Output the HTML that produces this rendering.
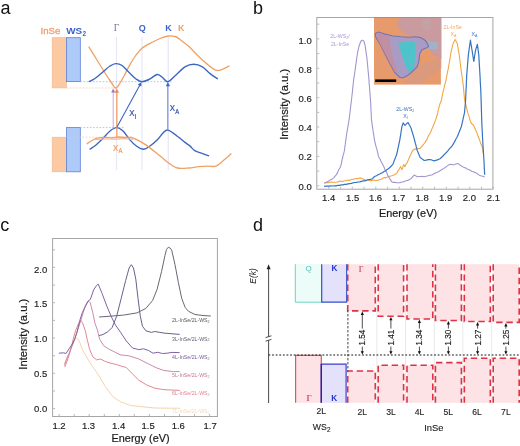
<!DOCTYPE html>
<html><head><meta charset="utf-8"><title>Figure</title>
<style>
html,body{margin:0;padding:0;background:#fff;width:520px;height:446px;overflow:hidden}
svg{display:block}
text{font-family:"Liberation Sans",Arial,sans-serif}
</style></head><body>
<svg width="520" height="446" viewBox="0 0 520 446">
<rect width="520" height="446" fill="#fff"/>
<text x="0.4" y="14.1" font-size="18" fill="#111">a</text>
<text x="252.9" y="13.9" font-size="18" fill="#111">b</text>
<text x="0.2" y="230.8" font-size="18" fill="#111">c</text>
<text x="252.9" y="230.7" font-size="18" fill="#111">d</text>
<line x1="116.6" y1="37" x2="116.6" y2="170" stroke="#dcdcf0" stroke-width="0.8"/>
<line x1="142.0" y1="37" x2="142.0" y2="170" stroke="#dcdcf0" stroke-width="0.8"/>
<line x1="168.2" y1="37" x2="168.2" y2="170" stroke="#dcdcf0" stroke-width="0.8"/>
<rect x="52.2" y="37.7" width="14.3" height="50.2" fill="#fbc9a2" stroke="#f4b48c" stroke-width="0.6"/>
<rect x="66.5" y="37.7" width="13.8" height="43.9" fill="#adcaf8" stroke="#5c80d4" stroke-width="0.8"/>
<rect x="52.2" y="137.2" width="14.3" height="34.6" fill="#fbc9a2" stroke="#f4b48c" stroke-width="0.6"/>
<rect x="66.5" y="127.6" width="13.8" height="44.2" fill="#adcaf8" stroke="#5c80d4" stroke-width="0.8"/>
<line x1="80.3" y1="81.7" x2="172" y2="81.7" stroke="#9ab4ec" stroke-width="0.8" stroke-dasharray="1.6,1.6"/>
<line x1="66.5" y1="88" x2="118" y2="88" stroke="#f6c4a4" stroke-width="0.8" stroke-dasharray="1.6,1.6"/>
<line x1="80.3" y1="127.6" x2="124" y2="127.6" stroke="#9ab4ec" stroke-width="0.8" stroke-dasharray="1.6,1.6"/>
<line x1="66.5" y1="137.2" x2="134" y2="137.2" stroke="#f6c4a4" stroke-width="0.8" stroke-dasharray="1.6,1.6"/>
<path d="M88.7,46.6 C90.1,48.8 94.3,55.6 97.0,60.0 C99.7,64.4 102.7,69.3 105.0,73.0 C107.3,76.7 109.2,79.5 111.0,82.0 C112.8,84.5 114.1,87.8 115.6,88.0 C117.1,88.2 118.6,85.0 120.0,83.0 C121.4,81.0 122.6,78.5 124.0,76.0 C125.4,73.5 126.5,70.8 128.2,67.8 C129.9,64.8 131.8,61.2 134.0,58.0 C136.2,54.8 138.5,51.2 141.7,48.5 C144.9,45.8 150.1,43.5 153.2,41.8 C156.2,40.1 157.4,39.5 160.0,38.5 C162.6,37.5 166.1,36.3 168.6,36.0 C171.1,35.7 173.2,36.0 175.0,36.5 C176.8,37.0 177.0,37.2 179.3,38.9 C181.6,40.6 185.7,43.7 188.9,46.6 C192.1,49.5 195.3,53.2 198.5,56.2 C201.7,59.2 205.3,62.6 208.2,64.9 C211.1,67.2 213.7,69.3 215.9,70.1 C218.2,70.9 219.4,70.4 221.7,69.7 C223.9,69.0 228.1,66.5 229.4,65.9" fill="none" stroke="#f2a062" stroke-width="1.3"/>
<path d="M88.7,81.7 C89.8,81.2 92.6,80.2 95.0,78.5 C97.4,76.8 100.6,73.8 103.1,71.7 C105.6,69.6 107.9,67.3 110.0,66.0 C112.1,64.7 113.6,63.7 115.6,63.6 C117.6,63.5 119.6,63.8 122.0,65.5 C124.4,67.2 127.8,71.3 130.1,73.6 C132.4,75.8 134.1,77.7 136.0,79.0 C137.9,80.3 139.5,81.6 141.7,81.7 C143.9,81.8 146.4,80.7 149.0,79.5 C151.6,78.3 154.9,74.9 157.1,74.5 C159.3,74.1 160.2,75.8 162.0,77.0 C163.8,78.2 165.5,82.0 167.7,81.7 C169.9,81.5 172.5,78.0 175.4,75.5 C178.3,73.0 181.9,68.7 185.0,66.8 C188.1,64.9 190.8,64.3 193.7,64.3 C196.6,64.3 199.7,65.2 202.4,66.8 C205.1,68.3 207.5,71.6 210.1,73.6 C212.7,75.6 216.5,78.1 217.8,79.0" fill="none" stroke="#3d66c2" stroke-width="1.4"/>
<path d="M89.6,149.3 C90.7,148.6 93.8,146.8 96.0,145.0 C98.2,143.2 100.8,140.5 103.1,138.2 C105.4,135.9 107.8,132.8 110.0,131.0 C112.2,129.2 114.4,127.6 116.6,127.6 C118.8,127.6 120.8,128.9 123.0,131.0 C125.2,133.1 127.8,137.5 130.1,140.1 C132.4,142.7 134.8,145.0 137.0,146.5 C139.2,148.0 141.4,149.4 143.6,149.3 C145.8,149.2 147.8,147.5 150.0,146.0 C152.2,144.5 154.9,142.3 157.1,140.1 C159.3,137.9 161.2,134.7 163.0,133.0 C164.8,131.3 165.7,129.6 168.1,130.1 C170.5,130.6 174.5,134.1 177.3,136.2 C180.1,138.2 182.9,140.8 185.0,142.4 C187.1,144.0 188.3,144.5 189.9,145.9 C191.5,147.3 192.8,149.5 194.7,150.7 C196.6,151.9 199.0,152.3 201.4,153.2 C203.8,154.1 207.8,155.4 209.1,155.9" fill="none" stroke="#3d66c2" stroke-width="1.4"/>
<path d="M86.7,144.0 C87.6,143.4 90.2,141.5 92.0,140.5 C93.8,139.5 95.1,138.7 97.3,138.2 C99.5,137.7 102.5,137.4 105.0,137.3 C107.5,137.2 109.8,137.9 112.0,137.8 C114.2,137.8 115.8,137.1 118.0,137.0 C120.2,136.9 122.8,137.4 125.0,137.5 C127.2,137.6 128.9,137.0 131.0,137.4 C133.1,137.8 135.1,138.7 137.8,140.1 C140.5,141.5 144.2,143.7 147.4,145.9 C150.6,148.2 154.7,151.7 157.1,153.6 C159.5,155.5 160.2,156.1 162.0,157.5 C163.8,158.9 165.1,160.6 167.7,162.3 C170.2,164.1 173.8,167.1 177.3,168.0 C180.8,168.9 185.4,168.2 188.9,168.0 C192.4,167.8 195.3,167.0 198.5,166.7 C201.7,166.4 205.3,166.2 208.2,166.1 C211.1,166.0 213.3,167.1 215.9,166.1 C218.5,165.1 221.0,162.4 223.6,160.3 C226.2,158.2 230.0,154.7 231.3,153.6" fill="none" stroke="#f2a062" stroke-width="1.3"/>
<path d="M95.0,139.5 C96.7,139.4 101.7,138.9 105.0,138.8 C108.3,138.8 111.7,139.2 115.0,139.2 C118.3,139.2 122.0,138.6 125.0,138.6 C128.0,138.6 131.7,139.3 133.0,139.4" fill="none" stroke="#f5b890" stroke-width="1.2"/>
<line x1="113.2" y1="128" x2="113.2" y2="91" stroke="#c99ad8" stroke-width="0.9"/>
<path d="M113.2,88.4 L111.2,92.6 L115.2,92.6 Z" fill="#a070d0"/>
<line x1="116.8" y1="137.5" x2="116.8" y2="91" stroke="#f4a877" stroke-width="1.5"/>
<path d="M116.8,88.4 L114.6,92.8 L119,92.8 Z" fill="#f08850"/>
<line x1="116.7" y1="127.5" x2="139.9" y2="85" stroke="#3d66c2" stroke-width="1.1"/>
<path d="M141.4,82.2 L137.7,84.6 L141.4,86.6 Z" fill="#3d66c2"/>
<line x1="167.8" y1="130.3" x2="167.8" y2="85" stroke="#6f8ad6" stroke-width="1.1"/>
<path d="M167.9,82 L165.8,86.2 L170,86.2 Z" fill="#3d66c2"/>
<text x="40.6" y="33.9" font-size="9.6" fill="#f09c6a" stroke="#f09c6a" stroke-width="0.3">InSe</text>
<text x="66.3" y="33.9" font-size="9.9" fill="#3a62c8" font-weight="bold">WS<tspan font-size="6.4" dy="2.2" dx="0.4">2</tspan></text>
<text x="116.4" y="30.8" font-size="9.4" fill="#72729a" text-anchor="middle" style="font-family:Liberation Serif,serif">Γ</text>
<text x="142.2" y="30.8" font-size="9" fill="#3a64cc" text-anchor="middle" font-weight="bold">Q</text>
<text x="168.5" y="30.8" font-size="9" fill="#3a64cc" text-anchor="middle" font-weight="bold">K</text>
<text x="181.3" y="30.8" font-size="9" fill="#f3a060" text-anchor="middle" font-weight="bold">K</text>
<text transform="translate(129.3,116) scale(0.85,1)" font-size="9.3" fill="#3a56b2" stroke="#3a56b2" stroke-width="0.25">X<tspan font-size="6.9" dy="2.9" dx="0.3">I</tspan></text>
<text transform="translate(169.8,110.7) scale(0.85,1)" font-size="9.3" fill="#3a56b2" stroke="#3a56b2" stroke-width="0.25">X<tspan font-size="6.9" dy="3.1" dx="0.3">A</tspan></text>
<text transform="translate(113.1,150.5) scale(0.85,1)" font-size="9.3" fill="#f09c5c" stroke="#f09c5c" stroke-width="0.25">X<tspan font-size="6.9" dy="2.1" dx="0.3">A</tspan></text>
<rect x="316.8" y="17.5" width="176.1" height="171.7" fill="none" stroke="#a6a6a6" stroke-width="1"/>
<line x1="317.3" y1="185.8" x2="319.3" y2="185.8" stroke="#a6a6a6" stroke-width="0.8"/>
<line x1="317.3" y1="171.1" x2="319.3" y2="171.1" stroke="#a6a6a6" stroke-width="0.8"/>
<line x1="317.3" y1="156.4" x2="319.3" y2="156.4" stroke="#a6a6a6" stroke-width="0.8"/>
<line x1="317.3" y1="141.7" x2="319.3" y2="141.7" stroke="#a6a6a6" stroke-width="0.8"/>
<line x1="317.3" y1="127.0" x2="319.3" y2="127.0" stroke="#a6a6a6" stroke-width="0.8"/>
<line x1="317.3" y1="112.4" x2="319.3" y2="112.4" stroke="#a6a6a6" stroke-width="0.8"/>
<line x1="317.3" y1="97.7" x2="319.3" y2="97.7" stroke="#a6a6a6" stroke-width="0.8"/>
<line x1="317.3" y1="83.0" x2="319.3" y2="83.0" stroke="#a6a6a6" stroke-width="0.8"/>
<line x1="317.3" y1="68.3" x2="319.3" y2="68.3" stroke="#a6a6a6" stroke-width="0.8"/>
<line x1="317.3" y1="53.6" x2="319.3" y2="53.6" stroke="#a6a6a6" stroke-width="0.8"/>
<line x1="317.3" y1="38.9" x2="319.3" y2="38.9" stroke="#a6a6a6" stroke-width="0.8"/>
<line x1="317.3" y1="24.2" x2="319.3" y2="24.2" stroke="#a6a6a6" stroke-width="0.8"/>
<line x1="328.8" y1="188.7" x2="328.8" y2="186.7" stroke="#a6a6a6" stroke-width="0.8"/>
<line x1="340.6" y1="188.7" x2="340.6" y2="186.7" stroke="#a6a6a6" stroke-width="0.8"/>
<line x1="352.3" y1="188.7" x2="352.3" y2="186.7" stroke="#a6a6a6" stroke-width="0.8"/>
<line x1="364.0" y1="188.7" x2="364.0" y2="186.7" stroke="#a6a6a6" stroke-width="0.8"/>
<line x1="375.8" y1="188.7" x2="375.8" y2="186.7" stroke="#a6a6a6" stroke-width="0.8"/>
<line x1="387.6" y1="188.7" x2="387.6" y2="186.7" stroke="#a6a6a6" stroke-width="0.8"/>
<line x1="399.3" y1="188.7" x2="399.3" y2="186.7" stroke="#a6a6a6" stroke-width="0.8"/>
<line x1="411.1" y1="188.7" x2="411.1" y2="186.7" stroke="#a6a6a6" stroke-width="0.8"/>
<line x1="422.8" y1="188.7" x2="422.8" y2="186.7" stroke="#a6a6a6" stroke-width="0.8"/>
<line x1="434.5" y1="188.7" x2="434.5" y2="186.7" stroke="#a6a6a6" stroke-width="0.8"/>
<line x1="446.3" y1="188.7" x2="446.3" y2="186.7" stroke="#a6a6a6" stroke-width="0.8"/>
<line x1="458.1" y1="188.7" x2="458.1" y2="186.7" stroke="#a6a6a6" stroke-width="0.8"/>
<line x1="469.8" y1="188.7" x2="469.8" y2="186.7" stroke="#a6a6a6" stroke-width="0.8"/>
<line x1="481.5" y1="188.7" x2="481.5" y2="186.7" stroke="#a6a6a6" stroke-width="0.8"/>
<line x1="493.3" y1="188.7" x2="493.3" y2="186.7" stroke="#a6a6a6" stroke-width="0.8"/>
<text x="311.7" y="189.5" font-size="9.5" fill="#222" stroke="#222" stroke-width="0.15" text-anchor="end">0.0</text>
<text x="311.7" y="160.4" font-size="9.5" fill="#222" stroke="#222" stroke-width="0.15" text-anchor="end">0.2</text>
<text x="311.7" y="131.4" font-size="9.5" fill="#222" stroke="#222" stroke-width="0.15" text-anchor="end">0.4</text>
<text x="311.7" y="102.3" font-size="9.5" fill="#222" stroke="#222" stroke-width="0.15" text-anchor="end">0.6</text>
<text x="311.7" y="73.3" font-size="9.5" fill="#222" stroke="#222" stroke-width="0.15" text-anchor="end">0.8</text>
<text x="311.7" y="44.2" font-size="9.5" fill="#222" stroke="#222" stroke-width="0.15" text-anchor="end">1.0</text>
<text x="328.7" y="200.9" font-size="9.5" fill="#222" stroke="#222" stroke-width="0.15" text-anchor="middle">1.4</text>
<text x="352.6" y="200.9" font-size="9.5" fill="#222" stroke="#222" stroke-width="0.15" text-anchor="middle">1.5</text>
<text x="375.5" y="200.9" font-size="9.5" fill="#222" stroke="#222" stroke-width="0.15" text-anchor="middle">1.6</text>
<text x="398.6" y="200.9" font-size="9.5" fill="#222" stroke="#222" stroke-width="0.15" text-anchor="middle">1.7</text>
<text x="422.2" y="200.9" font-size="9.5" fill="#222" stroke="#222" stroke-width="0.15" text-anchor="middle">1.8</text>
<text x="445.6" y="200.9" font-size="9.5" fill="#222" stroke="#222" stroke-width="0.15" text-anchor="middle">1.9</text>
<text x="469.4" y="200.9" font-size="9.5" fill="#222" stroke="#222" stroke-width="0.15" text-anchor="middle">2.0</text>
<text x="493.4" y="200.9" font-size="9.5" fill="#222" stroke="#222" stroke-width="0.15" text-anchor="middle">2.1</text>
<text x="408" y="216.5" font-size="10.9" fill="#1a1a1a" stroke="#1a1a1a" stroke-width="0.2" text-anchor="middle">Energy (eV)</text>
<text transform="translate(287.5,104.3) rotate(-90)" x="0" y="0" font-size="11.2" fill="#1a1a1a" stroke="#1a1a1a" stroke-width="0.2" text-anchor="middle">Intensity (a.u.)</text>
<g>
<rect x="374" y="17.4" width="66.9" height="67.2" fill="#e79b6d"/>
<polygon points="401.1,16.9 441.5,16.9 441.5,58.6 433.4,55.4 427.7,48.1 420.5,37.6 404.3,34.1 396.2,24.7" fill="#c99a9e"/>
<polygon points="420.5,19.8 430.2,18.2 431.8,29.5 423.7,31.2" fill="#c4a2a8" opacity="0.8"/>
<polygon points="412.4,68.3 441.5,57.0 441.5,68.3 420.5,82.9 404.3,83.7" fill="#d39a8a" opacity="0.6"/>
<polygon points="427.7,40.8 438.2,42.5 437.4,49.7 428.5,48.9" fill="#a2b0c8"/>
<polygon points="375.2,33.6 378.5,32.0 384.9,34.1 393.0,36.0 401.1,36.8 409.2,37.3 415.6,36.8 420.5,37.6 425.3,40.5 427.7,44.1 428.5,46.5 426.1,48.1 422.1,49.7 419.7,53.8 418.8,61.8 417.2,66.7 412.4,71.5 407.5,75.6 402.7,78.0 399.5,77.2 394.6,72.4 389.8,63.5 384.9,53.8 380.1,44.1 376.0,37.6" fill="#a99cc4" stroke="#7274b8" stroke-width="1.1"/>
<polygon points="376.5,36.8 376.0,34.1 378.5,32.8 384.9,34.7 389.0,35.7 390.6,47.3 394.6,63.5 398.7,75.6 394.6,71.5 389.8,62.7 384.9,53.0 380.1,43.8" fill="#c28ea2"/>
<polygon points="397.8,42.8 414.6,41.5 415.6,50.5 414.6,63.5 413.0,69.6 410.1,72.5 406.6,68.6 403.7,60.6 400.4,50.2" fill="#4ec3c9"/>
<rect x="375.2" y="79.4" width="21" height="2.6" fill="#000"/>
</g>
<line x1="373.5" y1="17.5" x2="441.5" y2="17.5" stroke="#a09088" stroke-width="1"/>
<path d="M324.1,183.1 L326.1,182.5 L328.0,182.6 L330.0,182.3 L331.8,182.1 L333.6,182.3 L335.5,182.3 L337.3,182.1 L339.0,181.4 L340.8,181.0 L342.5,181.7 L344.3,180.8 L346.0,180.8 L347.7,180.1 L349.4,180.5 L351.2,179.5 L352.9,179.5 L354.6,178.7 L356.3,178.5 L358.1,178.6 L359.8,177.9 L361.5,178.2 L363.2,179.0 L365.0,179.9 L366.7,180.2 L368.4,180.3 L370.2,180.6 L371.9,180.6 L373.7,180.0 L375.4,180.6 L377.3,180.4 L379.1,179.8 L381.0,179.2 L382.6,178.4 L384.3,177.6 L385.9,177.9 L387.6,176.9 L389.2,176.4 L390.9,176.0 L392.6,175.5 L394.4,174.7 L396.1,173.8 L397.0,172.8 L397.9,170.8 L398.9,169.8 L399.8,168.0 L400.7,166.6 L401.4,168.6 L402.0,169.6 L402.6,168.4 L403.2,165.8 L403.8,164.6 L405.0,166.6 L405.8,164.7 L406.6,163.2 L407.3,162.5 L408.1,160.5 L408.8,158.9 L409.4,157.6 L410.1,155.8 L410.8,154.5 L411.4,152.9 L412.1,151.5 L414.1,149.4 L416.1,148.9 L418.2,148.8 L420.2,148.4 L421.2,147.2 L422.2,146.2 L423.2,144.6 L424.2,143.5 L425.2,142.1 L426.2,140.4 L427.0,139.4 L427.7,137.5 L428.5,135.5 L429.2,134.7 L430.0,133.3 L430.8,131.7 L431.5,129.8 L432.3,128.2 L433.0,126.8 L433.6,124.5 L434.3,123.6 L435.0,121.6 L435.6,119.6 L436.3,118.2 L436.7,116.0 L437.2,115.1 L437.6,113.6 L438.0,110.8 L438.4,109.9 L438.9,107.7 L439.3,106.1 L439.8,104.2 L440.4,102.8 L440.9,101.8 L441.4,100.0 L441.7,98.8 L442.1,96.2 L442.4,95.1 L442.8,92.9 L443.1,91.7 L443.5,90.0 L444.0,88.2 L444.4,86.5 L444.8,84.8 L445.2,83.1 L445.7,81.3 L446.1,79.6 L446.4,78.0 L446.7,76.4 L447.0,74.7 L447.3,73.1 L447.6,71.5 L448.0,69.9 L448.3,68.3 L448.6,66.6 L448.9,65.0 L449.2,63.4 L449.5,61.7 L449.8,59.9 L450.1,58.2 L450.3,56.5 L450.6,54.8 L450.9,53.0 L451.2,51.3 L451.6,49.7 L452.0,48.1 L452.4,46.4 L452.8,44.8 L453.2,43.2 L454.2,41.4 L455.2,39.6 L456.2,41.4 L457.2,43.2 L457.5,44.9 L457.8,46.7 L458.1,48.4 L458.4,50.2 L458.7,51.9 L459.0,53.7 L459.3,55.4 L459.5,57.0 L459.7,58.6 L459.9,60.2 L460.1,61.8 L460.3,63.5 L460.5,65.1 L460.7,66.7 L460.9,68.3 L461.1,69.9 L461.3,71.5 L461.6,73.3 L461.8,75.0 L462.1,76.8 L462.3,78.5 L462.6,80.3 L462.8,82.1 L463.1,83.8 L463.3,85.6 L463.4,87.2 L463.6,88.8 L463.7,90.6 L463.9,91.8 L464.0,94.0 L464.2,95.7 L464.3,96.8 L464.5,98.9 L464.6,100.0 L465.0,101.5 L465.5,103.0 L465.9,105.3 L466.3,106.4 L466.7,108.3 L467.2,110.3 L467.6,112.1 L468.1,113.9 L468.6,115.1 L469.1,116.6 L469.6,119.2 L470.1,120.3 L470.6,122.2 L472.1,124.2 L473.6,125.2 L474.4,127.4 L475.1,128.6 L475.9,130.5 L476.7,132.3 L477.3,133.9 L477.9,135.7 L478.5,137.3 L479.1,138.8 L479.7,140.4 L480.3,142.1 L480.9,144.1 L481.5,145.2 L482.1,146.7 L482.7,148.4 L482.8,150.3 L483.0,151.5 L483.1,153.5" fill="none" stroke="#f2a744" stroke-width="1.1" stroke-linejoin="round"/>
<path d="M324.5,183.2 L325.9,182.5 L327.3,181.8 L328.7,181.1 L330.1,180.1 L332.0,179.2 L333.9,177.6 L335.1,176.1 L336.4,174.6 L337.6,172.6 L338.4,170.5 L339.2,169.1 L340.0,167.7 L340.8,165.7 L341.2,164.2 L341.6,162.7 L341.9,160.5 L342.3,159.1 L342.7,157.5 L343.1,155.4 L343.6,153.8 L344.1,151.9 L344.5,150.0 L344.7,148.3 L344.9,146.6 L345.2,144.9 L345.4,143.2 L345.6,141.4 L345.9,139.7 L346.1,138.0 L346.3,136.3 L346.6,134.7 L346.8,133.0 L347.1,131.4 L347.4,129.7 L347.7,128.1 L347.9,126.4 L348.2,124.8 L348.5,123.1 L348.8,121.5 L349.0,119.8 L349.3,118.2 L349.5,116.5 L349.7,114.8 L349.9,113.2 L350.1,111.5 L350.3,109.8 L350.5,108.1 L350.7,106.4 L350.9,104.7 L351.1,103.0 L351.3,101.4 L351.5,99.7 L351.7,98.0 L351.9,96.3 L352.1,94.5 L352.3,92.8 L352.5,91.0 L352.6,89.3 L352.8,87.6 L353.0,85.8 L353.2,84.1 L353.4,82.3 L353.6,80.6 L353.8,78.9 L354.1,77.2 L354.3,75.5 L354.6,73.8 L354.8,72.2 L355.0,70.5 L355.3,68.8 L355.5,67.1 L355.7,65.5 L355.9,63.9 L356.2,62.3 L356.4,60.7 L356.6,59.1 L356.8,57.5 L357.1,55.9 L357.3,54.3 L357.5,52.7 L358.0,50.8 L358.4,48.9 L358.9,46.9 L359.4,45.0 L360.2,43.0 L361.0,41.0 L362.3,40.1 L363.8,41.0 L364.3,42.6 L364.7,44.3 L365.2,45.9 L365.4,47.6 L365.7,49.3 L365.9,51.0 L366.1,52.6 L366.4,54.3 L366.6,56.0 L366.9,57.7 L367.1,59.4 L367.2,61.0 L367.4,62.7 L367.5,64.3 L367.7,65.9 L367.8,67.6 L368.0,69.2 L368.1,70.8 L368.3,72.4 L368.4,74.1 L368.6,75.7 L368.7,77.3 L368.9,79.0 L369.0,80.6 L369.1,82.2 L369.2,83.9 L369.4,85.5 L369.5,87.1 L369.6,88.8 L369.7,90.4 L369.9,92.0 L370.0,93.6 L370.1,95.3 L370.2,96.9 L370.4,98.5 L370.5,100.2 L370.6,101.8 L370.7,103.5 L370.8,105.1 L370.8,106.8 L370.9,108.5 L371.0,110.2 L371.1,111.8 L371.2,113.5 L371.3,115.2 L371.3,116.9 L371.4,118.5 L371.5,120.2 L371.8,121.9 L372.0,123.6 L372.2,125.2 L372.5,126.9 L372.8,128.6 L373.0,130.3 L373.2,132.0 L373.5,133.7 L373.8,135.3 L374.0,137.0 L374.2,138.7 L374.5,140.4 L374.9,142.0 L375.3,143.6 L375.7,145.2 L376.1,146.8 L376.6,148.4 L377.0,149.7 L377.4,151.5 L377.8,153.1 L378.2,155.2 L378.6,156.5 L379.4,158.2 L380.1,159.3 L380.9,161.2 L381.6,162.3 L382.4,164.1 L383.1,165.3 L383.9,166.7 L384.6,168.6 L385.4,170.5 L386.2,171.6 L387.0,173.3 L387.8,175.4 L388.6,176.7 L389.6,178.6 L390.7,179.9 L391.7,181.7 L393.4,182.4 L395.0,182.4 L396.7,182.7 L398.4,182.8 L400.0,182.7 L401.5,182.0 L403.1,182.0 L404.6,181.3 L406.1,180.7 L407.8,180.4 L409.4,179.6 L411.1,178.7 L412.6,176.8 L414.1,175.1 L415.6,175.8 L417.2,176.7 L418.9,176.5 L420.7,176.5 L422.4,176.4 L424.2,176.7 L425.8,176.2 L427.4,176.0 L429.1,175.2 L430.7,175.2 L432.3,174.7 L433.9,173.8 L435.5,172.9 L437.2,172.5 L438.8,171.4 L440.4,170.6 L441.9,169.5 L443.4,168.6 L444.9,167.7 L446.4,166.6 L448.4,165.1 L450.4,164.2 L452.4,164.7 L454.5,164.6 L457.5,163.6 L459.2,164.3 L460.9,165.8 L462.6,166.6 L464.1,167.6 L465.6,167.8 L467.1,169.1 L468.6,169.6 L470.1,170.3 L471.6,171.2 L473.2,171.5 L474.7,172.6 L476.2,173.1 L477.7,173.9 L479.2,175.2 L480.7,175.7 L482.7,176.2 L484.7,177.1" fill="none" stroke="#a394d0" stroke-width="1.1" stroke-linejoin="round"/>
<path d="M324.1,186.4 L325.8,186.2 L327.6,186.1 L329.3,186.2 L331.0,185.9 L332.7,186.0 L334.5,185.8 L336.2,185.8 L337.9,185.4 L339.6,185.3 L341.2,184.9 L342.9,184.8 L344.6,184.4 L346.3,184.3 L348.0,183.8 L349.7,183.6 L351.4,183.4 L353.0,182.8 L354.7,182.5 L356.4,182.3 L358.1,182.0 L359.7,181.8 L361.4,181.3 L363.1,180.9 L364.7,180.8 L366.4,180.3 L368.4,179.6 L370.5,179.4 L372.5,178.7 L374.5,176.5 L376.5,175.7 L378.0,174.8 L379.6,174.0 L381.1,173.2 L382.6,172.6 L384.1,171.5 L385.6,170.7 L387.1,169.5 L388.6,168.6 L390.0,167.3 L391.3,166.0 L392.7,164.6 L393.4,162.9 L394.0,161.3 L394.7,159.4 L395.4,157.7 L396.0,156.1 L396.7,154.5 L397.0,153.0 L397.4,151.3 L397.7,149.8 L398.0,148.2 L398.4,146.7 L398.7,145.1 L399.0,143.5 L399.4,142.0 L399.7,140.4 L400.0,138.6 L400.3,136.8 L400.6,135.1 L400.9,133.3 L401.1,131.5 L401.4,129.8 L401.7,128.0 L402.0,126.2 L402.6,124.6 L403.1,122.9 L405.0,125.3 L406.2,124.1 L407.4,122.9 L408.1,122.6 L409.1,124.5 L410.1,126.3 L411.1,128.2 L411.6,129.9 L412.1,131.6 L412.6,133.2 L413.1,134.9 L413.6,136.6 L414.1,138.3 L414.5,140.0 L415.0,141.8 L415.4,143.5 L415.9,145.2 L416.3,146.9 L416.8,148.7 L417.2,150.4 L417.9,152.1 L418.7,154.0 L419.4,155.7 L420.2,157.5 L421.5,158.4 L422.9,159.6 L424.2,160.5 L426.2,160.2 L428.3,159.7 L430.3,159.5 L432.3,160.2 L434.3,160.9 L435.8,160.3 L437.4,159.9 L438.9,159.2 L440.4,158.5 L441.6,157.2 L442.8,156.3 L444.0,154.7 L445.2,153.7 L446.4,152.5 L447.6,151.2 L448.8,149.7 L450.1,148.2 L451.3,146.8 L452.5,145.4 L453.3,143.9 L454.2,142.4 L455.0,140.9 L455.8,139.3 L456.7,137.8 L457.5,136.3 L458.2,134.6 L458.8,132.9 L459.5,131.2 L460.2,129.6 L460.8,127.9 L461.5,126.2 L461.8,124.6 L462.2,123.1 L462.5,121.5 L462.9,119.9 L463.2,118.4 L463.6,116.8 L463.9,115.2 L464.3,113.7 L464.6,112.1 L464.7,110.4 L464.9,108.6 L465.0,106.9 L465.2,105.2 L465.3,103.5 L465.5,101.7 L465.6,100.0 L465.7,98.4 L465.7,96.7 L465.8,95.1 L465.9,93.5 L466.0,91.8 L466.0,90.2 L466.1,88.6 L466.2,86.9 L466.3,85.3 L466.3,83.7 L466.4,82.0 L466.5,80.4 L466.6,78.8 L466.6,77.1 L466.7,75.5 L466.8,73.8 L467.0,72.2 L467.1,70.5 L467.2,68.8 L467.4,67.1 L467.5,65.5 L467.6,63.8 L467.8,62.1 L467.9,60.4 L468.0,58.8 L468.2,57.1 L468.3,55.4 L468.5,53.7 L468.8,52.0 L469.0,50.3 L469.2,48.6 L469.5,47.0 L469.7,45.3 L469.9,43.6 L470.2,41.9 L470.4,40.2 L470.7,41.8 L470.9,43.5 L471.2,45.1 L471.5,46.7 L471.7,48.4 L472.0,50.0 L472.3,51.6 L472.5,53.3 L472.8,54.9 L473.0,56.5 L473.3,58.1 L473.5,59.8 L473.8,61.4 L474.1,59.8 L474.3,58.1 L474.6,56.5 L474.8,54.9 L475.1,53.3 L475.3,51.6 L475.6,50.0 L476.2,48.1 L476.8,46.2 L477.4,44.3 L477.6,46.1 L477.9,48.0 L478.1,49.8 L478.3,51.7 L478.6,53.5 L478.8,55.4 L478.9,57.1 L479.0,58.8 L479.1,60.4 L479.2,62.1 L479.3,63.8 L479.4,65.5 L479.5,67.1 L479.6,68.8 L479.7,70.5 L479.8,72.2 L479.9,73.8 L480.0,75.5 L480.1,77.2 L480.2,78.9 L480.2,80.5 L480.3,82.2 L480.4,83.9 L480.5,85.6 L480.6,87.3 L480.7,89.0 L480.8,90.7 L480.8,92.3 L480.9,94.0 L481.0,95.7 L481.0,97.3 L481.1,99.0 L481.1,100.6 L481.2,102.2 L481.2,103.9 L481.3,105.5 L481.3,107.1 L481.4,108.8 L481.4,110.4 L481.5,112.0 L481.5,113.7 L481.6,115.3 L481.6,116.9 L481.7,118.6 L481.7,120.2 L481.8,121.9 L481.9,123.6 L481.9,125.2 L482.0,126.9 L482.1,128.6 L482.2,130.3 L482.3,132.0 L482.4,133.7 L482.4,135.3 L482.5,137.0 L482.6,138.7 L482.7,140.4 L482.8,142.0 L482.9,143.6 L483.0,145.2 L483.1,146.8 L483.2,148.4 L483.3,149.9 L483.4,151.7 L483.5,153.1 L483.6,155.0 L483.7,156.5 L483.8,158.3 L483.9,159.8 L484.0,161.6 L484.1,163.0 L484.2,164.9 L484.2,166.5 L484.3,168.1 L484.4,169.7 L484.5,171.5 L484.6,173.2 L484.7,174.7" fill="none" stroke="#3574c4" stroke-width="1.2" stroke-linejoin="round"/>
<text x="340" y="38" font-size="5.2" fill="#a898cc" text-anchor="middle">2L-WS<tspan font-size="3.6" dy="0.9">2</tspan><tspan dy="-0.9">/</tspan></text>
<text x="340" y="45.8" font-size="5.2" fill="#a898cc" text-anchor="middle">2L-InSe</text>
<text x="452.7" y="29.2" font-size="5.2" fill="#eca85a" text-anchor="middle">2L-InSe</text>
<text x="453.5" y="36" font-size="5.2" fill="#eca85a" text-anchor="middle">X<tspan font-size="3.6" dy="0.9">A</tspan></text>
<text x="474.5" y="36" font-size="5.2" fill="#3f70c0" text-anchor="middle">X<tspan font-size="3.6" dy="0.9">A</tspan></text>
<text x="405.2" y="110.8" font-size="5.2" fill="#3f70c0" text-anchor="middle">2L-WS<tspan font-size="3.6" dy="0.9">2</tspan></text>
<text x="405.5" y="117.6" font-size="5.2" fill="#3f70c0" text-anchor="middle">X<tspan font-size="3.6" dy="0.9">I</tspan></text>
<rect x="52.6" y="238.5" width="164.8" height="178" fill="none" stroke="#a6a6a6" stroke-width="1"/>
<line x1="53.1" y1="408.6" x2="55.1" y2="408.6" stroke="#a6a6a6" stroke-width="0.8"/>
<line x1="53.1" y1="391.0" x2="55.1" y2="391.0" stroke="#a6a6a6" stroke-width="0.8"/>
<line x1="53.1" y1="373.3" x2="55.1" y2="373.3" stroke="#a6a6a6" stroke-width="0.8"/>
<line x1="53.1" y1="355.7" x2="55.1" y2="355.7" stroke="#a6a6a6" stroke-width="0.8"/>
<line x1="53.1" y1="338.0" x2="55.1" y2="338.0" stroke="#a6a6a6" stroke-width="0.8"/>
<line x1="53.1" y1="320.4" x2="55.1" y2="320.4" stroke="#a6a6a6" stroke-width="0.8"/>
<line x1="53.1" y1="302.7" x2="55.1" y2="302.7" stroke="#a6a6a6" stroke-width="0.8"/>
<line x1="53.1" y1="285.1" x2="55.1" y2="285.1" stroke="#a6a6a6" stroke-width="0.8"/>
<line x1="53.1" y1="267.4" x2="55.1" y2="267.4" stroke="#a6a6a6" stroke-width="0.8"/>
<line x1="53.1" y1="249.8" x2="55.1" y2="249.8" stroke="#a6a6a6" stroke-width="0.8"/>
<line x1="59.1" y1="416" x2="59.1" y2="414" stroke="#a6a6a6" stroke-width="0.8"/>
<line x1="74.2" y1="416" x2="74.2" y2="414" stroke="#a6a6a6" stroke-width="0.8"/>
<line x1="89.2" y1="416" x2="89.2" y2="414" stroke="#a6a6a6" stroke-width="0.8"/>
<line x1="104.3" y1="416" x2="104.3" y2="414" stroke="#a6a6a6" stroke-width="0.8"/>
<line x1="119.3" y1="416" x2="119.3" y2="414" stroke="#a6a6a6" stroke-width="0.8"/>
<line x1="134.3" y1="416" x2="134.3" y2="414" stroke="#a6a6a6" stroke-width="0.8"/>
<line x1="149.4" y1="416" x2="149.4" y2="414" stroke="#a6a6a6" stroke-width="0.8"/>
<line x1="164.5" y1="416" x2="164.5" y2="414" stroke="#a6a6a6" stroke-width="0.8"/>
<line x1="179.5" y1="416" x2="179.5" y2="414" stroke="#a6a6a6" stroke-width="0.8"/>
<line x1="194.5" y1="416" x2="194.5" y2="414" stroke="#a6a6a6" stroke-width="0.8"/>
<line x1="209.6" y1="416" x2="209.6" y2="414" stroke="#a6a6a6" stroke-width="0.8"/>
<text x="47.2" y="412.2" font-size="9.5" fill="#222" stroke="#222" stroke-width="0.15" text-anchor="end">0.0</text>
<text x="47.2" y="377.3" font-size="9.5" fill="#222" stroke="#222" stroke-width="0.15" text-anchor="end">0.5</text>
<text x="47.2" y="342.4" font-size="9.5" fill="#222" stroke="#222" stroke-width="0.15" text-anchor="end">1.0</text>
<text x="47.2" y="307.4" font-size="9.5" fill="#222" stroke="#222" stroke-width="0.15" text-anchor="end">1.5</text>
<text x="47.2" y="272.5" font-size="9.5" fill="#222" stroke="#222" stroke-width="0.15" text-anchor="end">2.0</text>
<text x="59.0" y="428.6" font-size="9.5" fill="#222" stroke="#222" stroke-width="0.15" text-anchor="middle">1.2</text>
<text x="88.5" y="428.6" font-size="9.5" fill="#222" stroke="#222" stroke-width="0.15" text-anchor="middle">1.3</text>
<text x="118.6" y="428.6" font-size="9.5" fill="#222" stroke="#222" stroke-width="0.15" text-anchor="middle">1.4</text>
<text x="148.1" y="428.6" font-size="9.5" fill="#222" stroke="#222" stroke-width="0.15" text-anchor="middle">1.5</text>
<text x="178.3" y="428.6" font-size="9.5" fill="#222" stroke="#222" stroke-width="0.15" text-anchor="middle">1.6</text>
<text x="210.1" y="428.6" font-size="9.5" fill="#222" stroke="#222" stroke-width="0.15" text-anchor="middle">1.7</text>
<text x="140.6" y="441.7" font-size="10.9" fill="#1a1a1a" stroke="#1a1a1a" stroke-width="0.2" text-anchor="middle">Energy (eV)</text>
<text transform="translate(26.6,334.2) rotate(-90)" x="0" y="0" font-size="11.2" fill="#1a1a1a" stroke="#1a1a1a" stroke-width="0.2" text-anchor="middle">Intensity (a.u.)</text>
<path d="M64.2,366.0 L67.0,358.5 L70.0,350.5 L72.5,344.0 L74.5,340.0 L76.5,338.3 L78.2,339.5 L80.0,343.0 L82.5,350.0 L87.8,359.0 L92.5,366.5 L97.9,374.1 L105.4,386.7 L112.9,396.7 L120.5,401.8 L130.5,405.5 L142.5,406.8 L155.0,408.0 L170.0,408.2 L180.0,408.2" fill="none" stroke="#f4d4ae" stroke-width="1.0" stroke-linejoin="round"/>
<path d="M64.8,367.0 L67.5,360.0 L70.0,352.0 L72.3,343.0 L74.0,336.0 L75.7,330.3 L78.5,323.5 L80.7,320.3 L82.4,322.5 L85.2,330.3 L87.2,339.4 L89.5,348.8 L92.7,356.7 L96.6,359.8 L100.5,359.0 L105.2,361.4 L110.0,363.0 L116.2,364.5 L120.9,366.0 L126.3,367.5 L132.6,374.0 L138.8,380.2 L146.7,385.0 L154.5,388.1 L164.0,389.7 L179.7,390.4" fill="none" stroke="#e4808e" stroke-width="0.95" stroke-linejoin="round"/>
<path d="M64.4,364.5 L66.8,358.3 L69.1,353.5 L72.3,345.7 L74.5,339.5 L77.0,332.0 L80.0,323.0 L82.8,314.0 L85.3,305.5 L87.5,301.8 L89.0,301.3 L90.3,302.9 L92.7,312.4 L95.0,323.4 L97.4,330.0 L99.7,339.4 L103.7,345.7 L108.4,348.8 L114.7,352.0 L120.0,354.8 L129.4,355.9 L138.8,359.0 L148.3,363.8 L156.1,367.7 L164.0,370.5 L173.4,371.6 L179.7,371.6" fill="none" stroke="#c884a4" stroke-width="0.95" stroke-linejoin="round"/>
<path d="M58.9,353.2 L63.6,352.8 L66.0,353.5 L69.1,348.8 L72.3,344.1 L74.6,339.4 L76.8,333.0 L80.2,319.1 L82.4,312.4 L85.2,306.8 L88.5,300.5 L90.3,299.5 L93.6,290.0 L96.5,285.5 L98.2,284.1 L102.1,293.5 L106.8,306.1 L111.5,317.1 L115.4,324.9 L120.9,332.8 L126.3,341.0 L132.6,348.1 L138.8,349.6 L143.5,348.8 L148.3,350.4 L153.0,353.2 L157.7,352.3 L162.4,353.5 L167.1,353.2 L172.0,352.4 L179.6,352.6" fill="none" stroke="#8062a4" stroke-width="1.0" stroke-linejoin="round"/>
<path d="M99.1,335.6 L103.0,334.5 L107.8,331.8 L112.2,327.4 L116.7,316.2 L121.2,298.3 L125.7,280.4 L129.1,268.0 L131.3,264.7 L133.5,268.0 L135.8,279.2 L138.0,298.3 L140.3,316.2 L142.5,326.3 L145.9,330.8 L151.4,332.4 L154.8,331.5 L164.0,333.1 L179.7,334.4" fill="none" stroke="#64648a" stroke-width="1.0" stroke-linejoin="round"/>
<path d="M99.1,317.0 L110.0,316.2 L123.5,315.1 L136.9,312.9 L145.9,308.4 L152.6,300.5 L157.1,289.3 L161.6,271.4 L164.9,255.7 L166.5,249.5 L168.3,247.2 L170.0,248.0 L171.7,250.1 L175.0,264.7 L178.4,282.6 L181.7,298.3 L185.1,307.3 L188.5,311.3 L195.0,314.5 L203.0,315.5 L210.8,316.0" fill="none" stroke="#686874" stroke-width="1.0" stroke-linejoin="round"/>
<text x="172" y="321.9" font-size="5.2" fill="#555" textLength="37.5" lengthAdjust="spacingAndGlyphs">2L-InSe/2L-WS<tspan font-size="3.6" dy="0.9">2</tspan></text>
<text x="172" y="340.5" font-size="5.2" fill="#60607c" textLength="37.5" lengthAdjust="spacingAndGlyphs">3L-InSe/2L-WS<tspan font-size="3.6" dy="0.9">2</tspan></text>
<text x="172" y="358.7" font-size="5.2" fill="#7a5a9a" textLength="37.5" lengthAdjust="spacingAndGlyphs">4L-InSe/2L-WS<tspan font-size="3.6" dy="0.9">2</tspan></text>
<text x="172" y="376.6" font-size="5.2" fill="#c07898" textLength="37.5" lengthAdjust="spacingAndGlyphs">5L-InSe/2L-WS<tspan font-size="3.6" dy="0.9">2</tspan></text>
<text x="172" y="395.3" font-size="5.2" fill="#e58090" textLength="37.5" lengthAdjust="spacingAndGlyphs">6L-InSe/2L-WS<tspan font-size="3.6" dy="0.9">2</tspan></text>
<text x="172" y="413.0" font-size="5.2" fill="#f3d8bc" textLength="37.5" lengthAdjust="spacingAndGlyphs">7L-InSe/2L-WS<tspan font-size="3.6" dy="0.9">2</tspan></text>
<line x1="376.9" y1="300" x2="376.9" y2="403" stroke="#e2e2e2" stroke-width="0.8"/>
<line x1="405.5" y1="300" x2="405.5" y2="403" stroke="#e2e2e2" stroke-width="0.8"/>
<line x1="434.3" y1="300" x2="434.3" y2="403" stroke="#e2e2e2" stroke-width="0.8"/>
<line x1="462.8" y1="300" x2="462.8" y2="403" stroke="#e2e2e2" stroke-width="0.8"/>
<line x1="491.7" y1="300" x2="491.7" y2="403" stroke="#e2e2e2" stroke-width="0.8"/>
<rect x="295.3" y="264.2" width="26.4" height="38" fill="#ecfcf9"/>
<path d="M295.3,264.2 V302.2 H321.7" fill="none" stroke="#6dd3c3" stroke-width="1"/>
<rect x="321.7" y="264.2" width="25" height="38" fill="#e4e2fa"/>
<path d="M321.7,264.2 V302.2 H346.7 V264.2" fill="none" stroke="#2f4fcf" stroke-width="1.2"/>
<rect x="295.6" y="355.4" width="25.7" height="47.4" fill="#fde3e5"/>
<path d="M295.6,402.8 V355.4 H321.3 V364" fill="none" stroke="#d85a66" stroke-width="1.2"/>
<rect x="321.3" y="364.1" width="24.8" height="38.7" fill="#e4e2fa"/>
<path d="M321.3,402.8 V364.1 H346.1 V402.8" fill="none" stroke="#3c3cd0" stroke-width="1.2"/>
<line x1="321.3" y1="364.1" x2="321.3" y2="402.8" stroke="#4a1a80" stroke-width="1.4"/>
<rect x="347.7" y="264.2" width="27.6" height="46.7" fill="#fde3e5"/>
<path d="M347.7,264.2 V310.9 H375.3 V264.2" fill="none" stroke="#de3346" stroke-width="1.6" stroke-dasharray="6.4,3.8"/>
<rect x="347.7" y="371.0" width="27.6" height="31.8" fill="#fde3e5"/>
<path d="M347.7,402.8 V371.0 H375.3 V402.8" fill="none" stroke="#de3346" stroke-width="1.6" stroke-dasharray="6.4,3.8"/>
<rect x="378.2" y="264.2" width="25.4" height="52.1" fill="#fde3e5"/>
<path d="M378.2,264.2 V316.3 H403.6 V264.2" fill="none" stroke="#de3346" stroke-width="1.6" stroke-dasharray="6.4,3.8"/>
<rect x="378.2" y="365.3" width="25.4" height="37.5" fill="#fde3e5"/>
<path d="M378.2,402.8 V365.3 H403.6 V402.8" fill="none" stroke="#de3346" stroke-width="1.6" stroke-dasharray="6.4,3.8"/>
<rect x="407.0" y="264.2" width="25.8" height="54.8" fill="#fde3e5"/>
<path d="M407.0,264.2 V319.0 H432.8 V264.2" fill="none" stroke="#de3346" stroke-width="1.6" stroke-dasharray="6.4,3.8"/>
<rect x="407.0" y="365.3" width="25.8" height="37.5" fill="#fde3e5"/>
<path d="M407.0,402.8 V365.3 H432.8 V402.8" fill="none" stroke="#de3346" stroke-width="1.6" stroke-dasharray="6.4,3.8"/>
<rect x="435.4" y="264.2" width="26.0" height="56.3" fill="#fde3e5"/>
<path d="M435.4,264.2 V320.5 H461.4 V264.2" fill="none" stroke="#de3346" stroke-width="1.6" stroke-dasharray="6.4,3.8"/>
<rect x="435.4" y="362.6" width="26.0" height="40.2" fill="#fde3e5"/>
<path d="M435.4,402.8 V362.6 H461.4 V402.8" fill="none" stroke="#de3346" stroke-width="1.6" stroke-dasharray="6.4,3.8"/>
<rect x="464.3" y="264.2" width="26.0" height="57.3" fill="#fde3e5"/>
<path d="M464.3,264.2 V321.5 H490.3 V264.2" fill="none" stroke="#de3346" stroke-width="1.6" stroke-dasharray="6.4,3.8"/>
<rect x="464.3" y="358.3" width="26.0" height="44.5" fill="#fde3e5"/>
<path d="M464.3,402.8 V358.3 H490.3 V402.8" fill="none" stroke="#de3346" stroke-width="1.6" stroke-dasharray="6.4,3.8"/>
<rect x="493.2" y="264.2" width="26.0" height="58.2" fill="#fde3e5"/>
<path d="M493.2,264.2 V322.4 H519.2 V264.2" fill="none" stroke="#de3346" stroke-width="1.6" stroke-dasharray="6.4,3.8"/>
<rect x="493.2" y="358.3" width="26.0" height="44.5" fill="#fde3e5"/>
<path d="M493.2,402.8 V358.3 H519.2 V402.8" fill="none" stroke="#de3346" stroke-width="1.6" stroke-dasharray="6.4,3.8"/>
<line x1="347.9" y1="310" x2="347.9" y2="371" stroke="#444" stroke-width="1" stroke-dasharray="2.4,1.6"/>
<line x1="268.5" y1="355" x2="520" y2="355" stroke="#111" stroke-width="1" stroke-dasharray="1.8,1.8"/>
<line x1="268.6" y1="403" x2="268.6" y2="340.5" stroke="#333" stroke-width="0.9"/>
<line x1="268.6" y1="336.4" x2="268.6" y2="268" stroke="#333" stroke-width="0.9"/>
<path d="M268.6,264.3 L266.6,269.2 L270.6,269.2 Z" fill="#222"/>
<line x1="265.6" y1="337.6" x2="271.4" y2="335.8" stroke="#333" stroke-width="0.9"/>
<line x1="265.6" y1="341.2" x2="271.4" y2="339.4" stroke="#333" stroke-width="0.9"/>
<text transform="translate(255.6,276) rotate(-90)" font-size="8.4" font-style="italic" fill="#222" text-anchor="middle">E(k)</text>
<text x="308.5" y="270.9" font-size="8" fill="#4cc4b4" text-anchor="middle">Q</text>
<text x="334.4" y="271.0" font-size="8.2" fill="#2634c8" text-anchor="middle" font-weight="bold">K</text>
<text x="361.2" y="272.3" font-size="7.6" fill="#d06070" text-anchor="middle" font-weight="bold" style="font-family:Liberation Serif,serif">Γ</text>
<text x="309.1" y="401.4" font-size="8.4" fill="#c85868" text-anchor="middle" font-weight="bold" style="font-family:Liberation Serif,serif">Γ</text>
<text x="334.2" y="401.4" font-size="8.2" fill="#2634c8" text-anchor="middle" font-weight="bold">K</text>
<line x1="362.3" y1="313.9" x2="362.3" y2="328.6" stroke="#222" stroke-width="0.8"/>
<path d="M362.3,311.5 L360.7,314.9 L363.90000000000003,314.9 Z" fill="#111"/>
<line x1="362.3" y1="346.6" x2="362.3" y2="352" stroke="#222" stroke-width="0.8"/>
<path d="M362.3,354.6 L360.7,351.2 L363.90000000000003,351.2 Z" fill="#111"/>
<text transform="translate(365.2,337.6) rotate(-90)" font-size="8.2" fill="#1a1a1a" stroke="#1a1a1a" stroke-width="0.15" text-anchor="middle">1.54</text>
<line x1="390.9" y1="319.3" x2="390.9" y2="328.6" stroke="#222" stroke-width="0.8"/>
<path d="M390.9,316.90000000000003 L389.29999999999995,320.3 L392.5,320.3 Z" fill="#111"/>
<line x1="390.9" y1="346.6" x2="390.9" y2="352" stroke="#222" stroke-width="0.8"/>
<path d="M390.9,354.6 L389.29999999999995,351.2 L392.5,351.2 Z" fill="#111"/>
<text transform="translate(393.79999999999995,337.6) rotate(-90)" font-size="8.2" fill="#1a1a1a" stroke="#1a1a1a" stroke-width="0.15" text-anchor="middle">1.41</text>
<line x1="419.4" y1="322.0" x2="419.4" y2="328.6" stroke="#222" stroke-width="0.8"/>
<path d="M419.4,319.6 L417.79999999999995,323.0 L421.0,323.0 Z" fill="#111"/>
<line x1="419.4" y1="346.6" x2="419.4" y2="352" stroke="#222" stroke-width="0.8"/>
<path d="M419.4,354.6 L417.79999999999995,351.2 L421.0,351.2 Z" fill="#111"/>
<text transform="translate(422.29999999999995,337.6) rotate(-90)" font-size="8.2" fill="#1a1a1a" stroke="#1a1a1a" stroke-width="0.15" text-anchor="middle">1.34</text>
<line x1="448.4" y1="323.5" x2="448.4" y2="328.6" stroke="#222" stroke-width="0.8"/>
<path d="M448.4,321.1 L446.79999999999995,324.5 L450.0,324.5 Z" fill="#111"/>
<line x1="448.4" y1="346.6" x2="448.4" y2="352" stroke="#222" stroke-width="0.8"/>
<path d="M448.4,354.6 L446.79999999999995,351.2 L450.0,351.2 Z" fill="#111"/>
<text transform="translate(451.29999999999995,337.6) rotate(-90)" font-size="8.2" fill="#1a1a1a" stroke="#1a1a1a" stroke-width="0.15" text-anchor="middle">1.30</text>
<line x1="477.6" y1="324.5" x2="477.6" y2="328.6" stroke="#222" stroke-width="0.8"/>
<path d="M477.6,322.1 L476.0,325.5 L479.20000000000005,325.5 Z" fill="#111"/>
<line x1="477.6" y1="346.6" x2="477.6" y2="352" stroke="#222" stroke-width="0.8"/>
<path d="M477.6,354.6 L476.0,351.2 L479.20000000000005,351.2 Z" fill="#111"/>
<text transform="translate(480.5,337.6) rotate(-90)" font-size="8.2" fill="#1a1a1a" stroke="#1a1a1a" stroke-width="0.15" text-anchor="middle">1.27</text>
<line x1="505.9" y1="325.4" x2="505.9" y2="328.6" stroke="#222" stroke-width="0.8"/>
<path d="M505.9,323.0 L504.29999999999995,326.4 L507.5,326.4 Z" fill="#111"/>
<line x1="505.9" y1="346.6" x2="505.9" y2="352" stroke="#222" stroke-width="0.8"/>
<path d="M505.9,354.6 L504.29999999999995,351.2 L507.5,351.2 Z" fill="#111"/>
<text transform="translate(508.79999999999995,337.6) rotate(-90)" font-size="8.2" fill="#1a1a1a" stroke="#1a1a1a" stroke-width="0.15" text-anchor="middle">1.25</text>
<text x="321.3" y="414.3" font-size="8.6" fill="#222" stroke="#222" stroke-width="0.12" text-anchor="middle">2L</text>
<text x="362.3" y="414.6" font-size="8.6" fill="#222" stroke="#222" stroke-width="0.12" text-anchor="middle">2L</text>
<text x="391" y="414.6" font-size="8.6" fill="#222" stroke="#222" stroke-width="0.12" text-anchor="middle">3L</text>
<text x="419.6" y="414.6" font-size="8.6" fill="#222" stroke="#222" stroke-width="0.12" text-anchor="middle">4L</text>
<text x="448.2" y="414.6" font-size="8.6" fill="#222" stroke="#222" stroke-width="0.12" text-anchor="middle">5L</text>
<text x="477.1" y="414.6" font-size="8.6" fill="#222" stroke="#222" stroke-width="0.12" text-anchor="middle">6L</text>
<text x="505.9" y="414.6" font-size="8.6" fill="#222" stroke="#222" stroke-width="0.12" text-anchor="middle">7L</text>
<text x="312.8" y="430.2" font-size="8.7" fill="#222" stroke="#222" stroke-width="0.12">WS<tspan font-size="6.3" dy="2.2" dx="0.3">2</tspan></text>
<text x="433.9" y="430.6" font-size="9.4" fill="#222" stroke="#222" stroke-width="0.12" text-anchor="middle">InSe</text>
</svg>
</body></html>
